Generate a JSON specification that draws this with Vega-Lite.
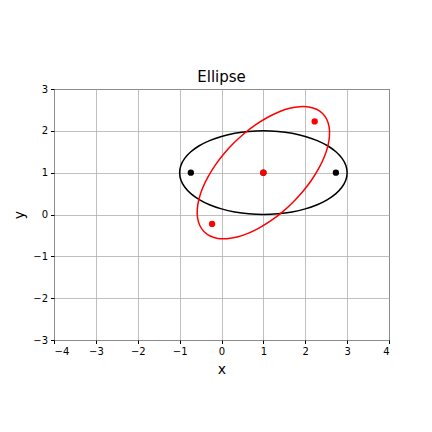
{
  "$schema": "https://vega.github.io/schema/vega-lite/v6.json",
  "autosize": "none",
  "width": 335,
  "height": 251,
  "padding": {"left": 54, "top": 89, "right": 43, "bottom": 92},
  "background": "white",
  "title": {"text": "Ellipse", "fontSize": 15, "font": "DejaVu Sans", "fontWeight": "normal", "color": "black", "offset": -1},
  "config": {
    "view": {"stroke": "black", "strokeWidth": 1},
    "axis": {
      "labelFont": "DejaVu Sans", "labelFontSize": 10, "labelColor": "black",
      "titleFont": "DejaVu Sans", "titleFontSize": 14, "titleFontWeight": "normal", "titleColor": "black",
      "tickColor": "black", "tickSize": 3.5, "domain": false,
      "grid": true, "gridColor": "#b0b0b0", "gridWidth": 0.8
    }
  },
  "datasets": {
    "black": [
      {"i":0,"x":3,"y":1},{"i":1,"x":2.970,"y":1.174},{"i":2,"x":2.879,"y":1.342},{"i":3,"x":2.732,"y":1.5},
      {"i":4,"x":2.532,"y":1.643},{"i":5,"x":2.286,"y":1.766},{"i":6,"x":2.0,"y":1.866},{"i":7,"x":1.684,"y":1.940},
      {"i":8,"x":1.347,"y":1.985},{"i":9,"x":1,"y":2},{"i":10,"x":0.653,"y":1.985},{"i":11,"x":0.316,"y":1.940},
      {"i":12,"x":0,"y":1.866},{"i":13,"x":-0.286,"y":1.766},{"i":14,"x":-0.532,"y":1.643},{"i":15,"x":-0.732,"y":1.5},
      {"i":16,"x":-0.879,"y":1.342},{"i":17,"x":-0.970,"y":1.174},{"i":18,"x":-1,"y":1},{"i":19,"x":-0.970,"y":0.826},
      {"i":20,"x":-0.879,"y":0.658},{"i":21,"x":-0.732,"y":0.5},{"i":22,"x":-0.532,"y":0.357},{"i":23,"x":-0.286,"y":0.234},
      {"i":24,"x":0,"y":0.134},{"i":25,"x":0.316,"y":0.060},{"i":26,"x":0.653,"y":0.015},{"i":27,"x":1,"y":0},
      {"i":28,"x":1.347,"y":0.015},{"i":29,"x":1.684,"y":0.060},{"i":30,"x":2.0,"y":0.134},{"i":31,"x":2.286,"y":0.234},
      {"i":32,"x":2.532,"y":0.357},{"i":33,"x":2.732,"y":0.5},{"i":34,"x":2.879,"y":0.658},{"i":35,"x":2.970,"y":0.826}
    ],
    "red": [
      {"i":0,"x":2.414,"y":2.414},{"i":1,"x":2.270,"y":2.515},{"i":2,"x":2.087,"y":2.571},{"i":3,"x":1.871,"y":2.578},
      {"i":4,"x":1.629,"y":2.538},{"i":5,"x":1.367,"y":2.451},{"i":6,"x":1.095,"y":2.319},{"i":7,"x":0.819,"y":2.148},
      {"i":8,"x":0.549,"y":1.942},{"i":9,"x":0.293,"y":1.707},{"i":10,"x":0.058,"y":1.451},{"i":11,"x":-0.148,"y":1.181},
      {"i":12,"x":-0.319,"y":0.905},{"i":13,"x":-0.451,"y":0.633},{"i":14,"x":-0.538,"y":0.371},{"i":15,"x":-0.578,"y":0.129},
      {"i":16,"x":-0.571,"y":-0.087},{"i":17,"x":-0.515,"y":-0.270},{"i":18,"x":-0.414,"y":-0.414},{"i":19,"x":-0.270,"y":-0.515},
      {"i":20,"x":-0.087,"y":-0.571},{"i":21,"x":0.129,"y":-0.578},{"i":22,"x":0.371,"y":-0.538},{"i":23,"x":0.633,"y":-0.451},
      {"i":24,"x":0.905,"y":-0.319},{"i":25,"x":1.181,"y":-0.148},{"i":26,"x":1.451,"y":0.058},{"i":27,"x":1.707,"y":0.293},
      {"i":28,"x":1.942,"y":0.549},{"i":29,"x":2.148,"y":0.819},{"i":30,"x":2.319,"y":1.095},{"i":31,"x":2.451,"y":1.367},
      {"i":32,"x":2.538,"y":1.629},{"i":33,"x":2.578,"y":1.871},{"i":34,"x":2.571,"y":2.087},{"i":35,"x":2.515,"y":2.270}
    ],
    "pts": [
      {"k":1,"x":-0.732,"y":1,"c":"black"},{"k":2,"x":2.732,"y":1,"c":"black"},{"k":3,"x":1,"y":1,"c":"black"},
      {"k":4,"x":2.225,"y":2.225,"c":"red"},{"k":5,"x":-0.225,"y":-0.225,"c":"red"},{"k":6,"x":1,"y":1,"c":"red"}
    ]
  },
  "encoding": {
    "x": {"field": "x", "type": "quantitative", "scale": {"domain": [-4, 4], "nice": false, "zero": false},
          "axis": {"values": [-4,-3,-2,-1,0,1,2,3,4], "title": "x", "titlePadding": 6, "labelPadding": 3}},
    "y": {"field": "y", "type": "quantitative", "scale": {"domain": [-3, 3], "nice": false, "zero": false},
          "axis": {"values": [-3,-2,-1,0,1,2,3], "title": "y", "titlePadding": 6, "labelPadding": 3}}
  },
  "layer": [
    {
      "data": {"name": "pts"},
      "mark": {"type": "point", "filled": true, "opacity": 1, "size": 40},
      "encoding": {
        "color": {"field": "c", "type": "nominal", "scale": {"domain": ["black", "red"], "range": ["black", "#ff0000"]}, "legend": null},
        "order": {"field": "k"}
      }
    },
    {
      "data": {"name": "black"},
      "mark": {"type": "line", "interpolate": "cardinal-closed", "color": "black", "strokeWidth": 1.5},
      "encoding": {"order": {"field": "i"}}
    },
    {
      "data": {"name": "red"},
      "mark": {"type": "line", "interpolate": "cardinal-closed", "color": "#ff0000", "strokeWidth": 1.5},
      "encoding": {"order": {"field": "i"}}
    }
  ]
}
